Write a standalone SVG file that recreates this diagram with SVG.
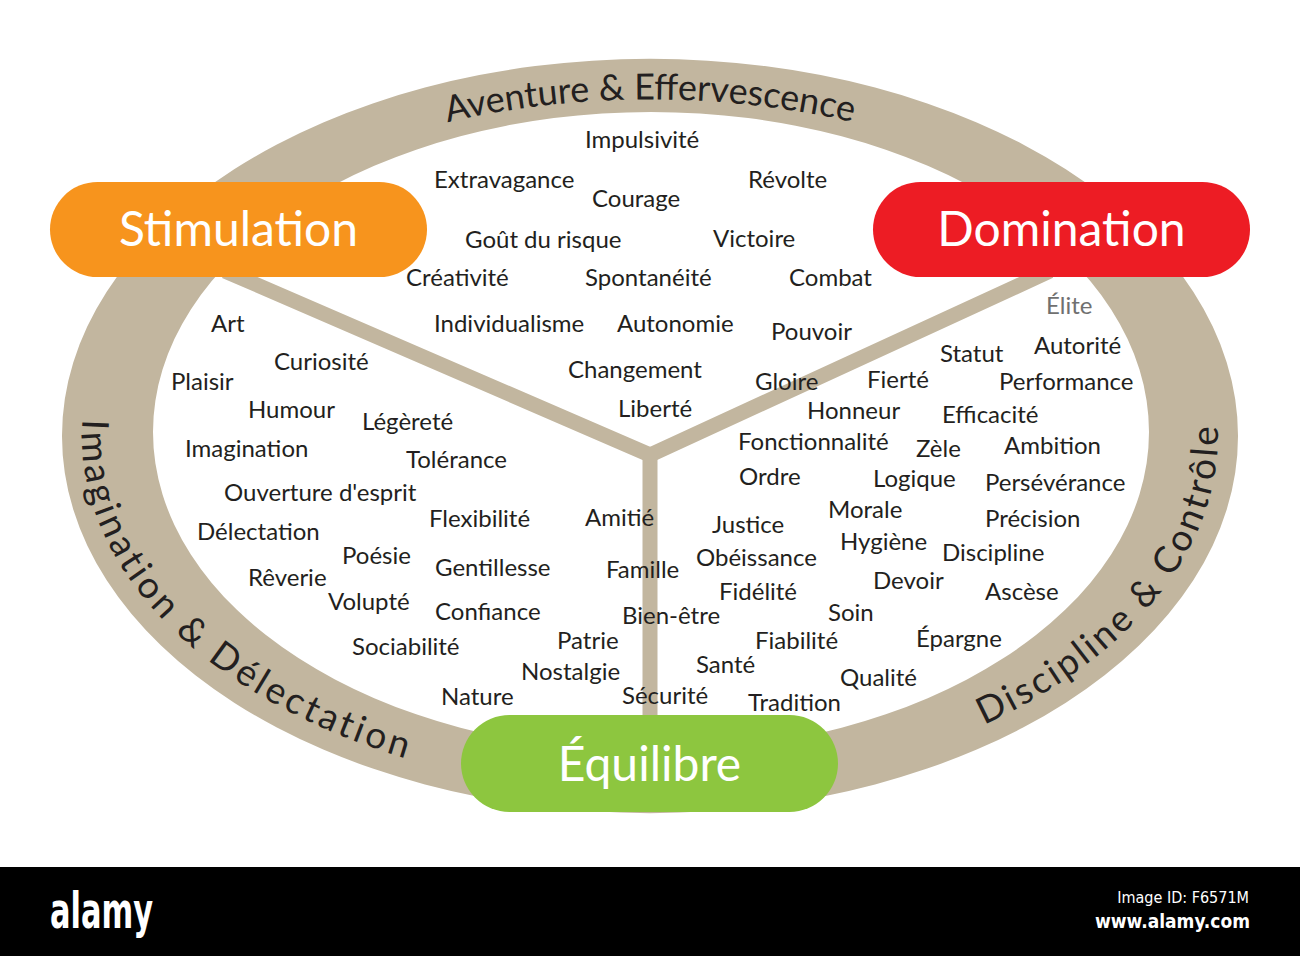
<svg xmlns="http://www.w3.org/2000/svg" width="1300" height="956" viewBox="0 0 1300 956">
<style>
.w{font-family:Lato,"Open Sans","DejaVu Sans",sans-serif;font-size:24px;fill:#231f20}
.ring{font-family:Lato,"Open Sans","DejaVu Sans",sans-serif;fill:#231f20}
.pl{font-family:Lato,"Open Sans","DejaVu Sans",sans-serif;font-size:48px;fill:#ffffff;text-anchor:middle}
.arm{fill:none;stroke:#c2b69f;stroke-width:15;stroke-linejoin:miter}
.wm{font-family:"DejaVu Sans Condensed","DejaVu Sans",sans-serif;fill:#ffffff}
</style>
<defs>
<path id="pTop" d="M165 267.5 A560 336 0 0 1 1135 267.5"/>
<path id="pLeft" d="M82.6 419 A568 357 0 0 0 551.4 787.6"/>
<path id="pRight" d="M983.9 724.8 A568 357 0 0 0 1183.7 313.9"/>
</defs>
<rect width="1300" height="956" fill="#ffffff"/>
<g id="ring">
<path fill="#c2b69f" fill-rule="evenodd" d="M62 436 A588 377 0 1 0 1238 436 A588 377 0 1 0 62 436 Z M153 432 A498 320 0 1 0 1149 432 A498 320 0 1 0 153 432 Z"/>
<text class="ring" font-size="36"><textPath href="#pTop" startOffset="50%" text-anchor="middle">Aventure &amp; Effervescence</textPath></text>
<text class="ring" font-size="37" letter-spacing="3.4"><textPath href="#pLeft">Imagination &amp; Délectation</textPath></text>
<text class="ring" font-size="37" letter-spacing="2.9"><textPath href="#pRight">Discipline &amp; Contrôle</textPath></text>
</g>
<g id="connectors">
<path class="arm" d="M225 271 L650 455 L1050 271"/>
<path class="arm" d="M650 455 L650 740"/>
</g>
<g id="words">
<text class="w" x="585" y="148">Impulsivité</text>
<text class="w" x="434" y="188">Extravagance</text>
<text class="w" x="592" y="207">Courage</text>
<text class="w" x="748" y="188">Révolte</text>
<text class="w" x="465" y="248">Goût du risque</text>
<text class="w" x="713" y="247">Victoire</text>
<text class="w" x="406" y="286">Créativité</text>
<text class="w" x="585" y="286">Spontanéité</text>
<text class="w" x="789" y="286">Combat</text>
<text class="w" x="434" y="332">Individualisme</text>
<text class="w" x="617" y="332">Autonomie</text>
<text class="w" x="771" y="340">Pouvoir</text>
<text class="w" x="211" y="332">Art</text>
<text class="w" x="274" y="370">Curiosité</text>
<text class="w" x="171" y="390">Plaisir</text>
<text class="w" x="568" y="378">Changement</text>
<text class="w" x="248" y="418">Humour</text>
<text class="w" x="362" y="430">Légèreté</text>
<text class="w" x="618" y="417">Liberté</text>
<text class="w" x="185" y="457">Imagination</text>
<text class="w" x="406" y="468">Tolérance</text>
<text class="w" x="224" y="501">Ouverture d'esprit</text>
<text class="w" x="429" y="527">Flexibilité</text>
<text class="w" x="585" y="526">Amitié</text>
<text class="w" x="197" y="540">Délectation</text>
<text class="w" x="342" y="564">Poésie</text>
<text class="w" x="435" y="576">Gentillesse</text>
<text class="w" x="606" y="578">Famille</text>
<text class="w" x="248" y="586">Rêverie</text>
<text class="w" x="328" y="610">Volupté</text>
<text class="w" x="435" y="620">Confiance</text>
<text class="w" x="622" y="624">Bien-être</text>
<text class="w" x="352" y="655">Sociabilité</text>
<text class="w" x="557" y="649">Patrie</text>
<text class="w" x="521" y="680">Nostalgie</text>
<text class="w" x="441" y="705">Nature</text>
<text class="w" x="622" y="704">Sécurité</text>
<text class="w" x="1046" y="314" style="fill:#707070">Élite</text>
<text class="w" x="940" y="362">Statut</text>
<text class="w" x="1034" y="354">Autorité</text>
<text class="w" x="755" y="390">Gloire</text>
<text class="w" x="867" y="388">Fierté</text>
<text class="w" x="999" y="390">Performance</text>
<text class="w" x="807" y="419">Honneur</text>
<text class="w" x="942" y="423">Efficacité</text>
<text class="w" x="738" y="450">Fonctionnalité</text>
<text class="w" x="916" y="457">Zèle</text>
<text class="w" x="1004" y="454">Ambition</text>
<text class="w" x="739" y="485">Ordre</text>
<text class="w" x="873" y="487">Logique</text>
<text class="w" x="985" y="491">Persévérance</text>
<text class="w" x="828" y="518">Morale</text>
<text class="w" x="985" y="527">Précision</text>
<text class="w" x="712" y="533">Justice</text>
<text class="w" x="840" y="550">Hygiène</text>
<text class="w" x="942" y="561">Discipline</text>
<text class="w" x="696" y="566">Obéissance</text>
<text class="w" x="873" y="589">Devoir</text>
<text class="w" x="719" y="600">Fidélité</text>
<text class="w" x="985" y="600">Ascèse</text>
<text class="w" x="828" y="621">Soin</text>
<text class="w" x="755" y="649">Fiabilité</text>
<text class="w" x="916" y="647">Épargne</text>
<text class="w" x="696" y="673">Santé</text>
<text class="w" x="840" y="686">Qualité</text>
<text class="w" x="748" y="711">Tradition</text>
</g>
<g id="stimulation">
<rect x="50" y="182" width="377" height="95" rx="47.5" fill="#f7941d"/>
<text class="pl" x="238.5" y="246">Stimulation</text>
</g>
<g id="domination">
<rect x="873" y="182" width="377" height="95" rx="47.5" fill="#ed1c24"/>
<text class="pl" x="1061.5" y="246">Domination</text>
</g>
<g id="equilibre">
<rect x="461" y="715" width="377" height="97" rx="48.5" fill="#8dc63f"/>
<text class="pl" x="649.5" y="781">Équilibre</text>
</g>
<g id="footer">
<rect x="0" y="867" width="1300" height="89" fill="#000000"/>
<text class="wm" x="50" y="928" font-size="50" font-weight="bold" textLength="103" lengthAdjust="spacingAndGlyphs">alamy</text>
<text class="wm" x="1249" y="903" font-size="16" text-anchor="end">Image ID: F6571M</text>
<text class="wm" x="1250" y="928" font-size="19" font-weight="bold" text-anchor="end">www.alamy.com</text>
</g>
</svg>
